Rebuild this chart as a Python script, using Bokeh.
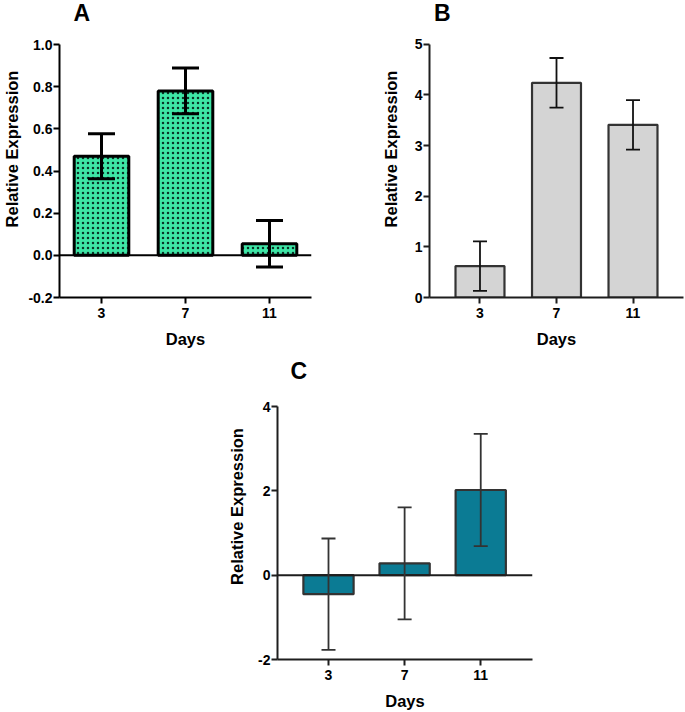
from bokeh.plotting import figure
from bokeh.models import (ColumnDataSource, Range1d, FixedTicker, Whisker,
                          TeeHead, Span, Label, PrintfTickFormatter, Spacer)
from bokeh.layouts import column, row
from bokeh.embed import file_html
from bokeh.resources import INLINE

FONT = "Liberation Sans"

days = ["3", "7", "11"]

a_mean = [0.47, 0.78, 0.055]
a_err = [0.107, 0.108, 0.11]
a_ticks = [-0.2, 0.0, 0.2, 0.4, 0.6, 0.8, 1.0]

b_mean = [0.62, 4.24, 3.41]
b_err = [0.49, 0.49, 0.49]
b_ticks = [0, 1, 2, 3, 4, 5]

c_mean = [-0.45, 0.28, 2.02]
c_err = [1.32, 1.33, 1.33]
c_ticks = [-2, 0, 2, 4]


def make_source(mean, err):
    return ColumnDataSource(data={
        'x': list(range(len(days))),
        'mean': mean,
        'lower': [m - e for m, e in zip(mean, err)],
        'upper': [m + e for m, e in zip(mean, err)]})


def make_panel(ticks, yfmt, x_range, width, height, left, right, bottom,
               axis_px, head_px, ylabel_standoff, axis_color):
    # the frame reaches up to the top of the figure so the panel letter can
    # live inside it; the y axis line itself stops at the last tick
    lo, hi = ticks[0], ticks[-1]
    top = hi + head_px * (hi - lo) / axis_px
    p = figure(width=width, height=height, output_backend="svg",
               toolbar_location=None, x_range=x_range,
               y_range=Range1d(lo, top),
               min_border_left=left, min_border_right=right,
               min_border_top=0, min_border_bottom=bottom)
    p.outline_line_color = None
    p.xgrid.visible = p.ygrid.visible = False
    p.background_fill_color = "white"

    p.xaxis.ticker = FixedTicker(ticks=list(range(len(days))))
    p.xaxis.major_label_overrides = {i: d for i, d in enumerate(days)}
    p.yaxis.ticker = FixedTicker(ticks=ticks)
    p.yaxis.bounds = (lo, hi)
    p.yaxis.formatter = PrintfTickFormatter(format=yfmt)
    p.xaxis.axis_label = "Days"
    p.yaxis.axis_label = "Relative Expression"

    for ax in (p.xaxis, p.yaxis):
        ax.axis_line_color = axis_color
        ax.axis_line_width = 2
        ax.major_tick_line_color = axis_color
        ax.major_tick_line_width = 2
        ax.major_tick_out = 6
        ax.major_tick_in = 0
        ax.minor_tick_line_color = None
        ax.major_label_text_font = FONT
        ax.major_label_text_font_style = "bold"
        ax.major_label_text_font_size = "14px"
        ax.major_label_text_color = "black"
        ax.axis_label_text_font = FONT
        ax.axis_label_text_font_style = "bold"
        ax.axis_label_text_font_size = "16.5px"
        ax.axis_label_text_color = "black"
    p.xaxis.major_label_standoff = 4
    p.xaxis.axis_label_standoff = 9
    p.yaxis.major_label_standoff = 1
    p.yaxis.axis_label_standoff = ylabel_standoff
    return p


def add_letter(p, letter, x, y):
    p.add_layout(Label(x=x, y=y, text=letter, text_font=FONT,
                       text_font_style="bold", text_font_size="23px",
                       text_align="center", text_baseline="middle",
                       text_color="black"))


def add_whiskers(p, src, color, lw, cap):
    p.add_layout(Whisker(base='x', upper='upper', lower='lower', source=src,
                         level="annotation",
                         line_color=color, line_width=lw,
                         upper_head=TeeHead(size=cap, line_color=color,
                                            line_width=lw),
                         lower_head=TeeHead(size=cap, line_color=color,
                                            line_width=lw)))


# Panel A
src_a = make_source(a_mean, a_err)
pa = make_panel(a_ticks, "%.1f", Range1d(-0.5, 2.5), 340, 353,
                56, 29, 56, 253, 44, 4, "black")
pa.add_layout(Span(location=0, dimension="width", line_color="black",
                   line_width=2))
pa.vbar(x='x', top='mean', bottom=0, width=0.65, source=src_a,
        fill_color="#3ee6a6", line_color="black", line_width=3,
        hatch_pattern="dot", hatch_color="#0a3326", hatch_scale=5,
        hatch_weight=0.6)
add_whiskers(pa, src_a, "black", 3, 27)
add_letter(pa, "A", -0.235, 1.149)

# Panel B
src_b = make_source(b_mean, b_err)
pb = make_panel(b_ticks, "%d", Range1d(-0.66, 2.66), 345, 353,
                89, 2, 55, 254, 44, 12, "#1e1e1e")
pb.vbar(x='x', top='mean', bottom=0, width=0.64, source=src_b,
        fill_color="#d4d4d4", line_color="#333333", line_width=2.2)
add_whiskers(pb, src_b, "#111111", 1.8, 14)
add_letter(pb, "B", -0.494, 5.62)

# Panel C
src_c = make_source(c_mean, c_err)
pc = make_panel(c_ticks, "%d", Range1d(-0.67, 2.68), 345, 359,
                70, 20, 53, 253, 53, 9, "#1e1e1e")
pc.add_layout(Span(location=0, dimension="width", line_color="#1e1e1e",
                   line_width=2))
pc.vbar(x='x', top='mean', bottom=0, width=0.66, source=src_c,
        fill_color="#0b7b94", line_color="#333333", line_width=2.2)
add_whiskers(pc, src_c, "#333333", 1.8, 14)
add_letter(pc, "C", -0.39, 4.842)

layout = column(row(pa, pb), row(Spacer(width=207, height=359), pc))

open("out.html", "w").write(file_html(layout, INLINE))
